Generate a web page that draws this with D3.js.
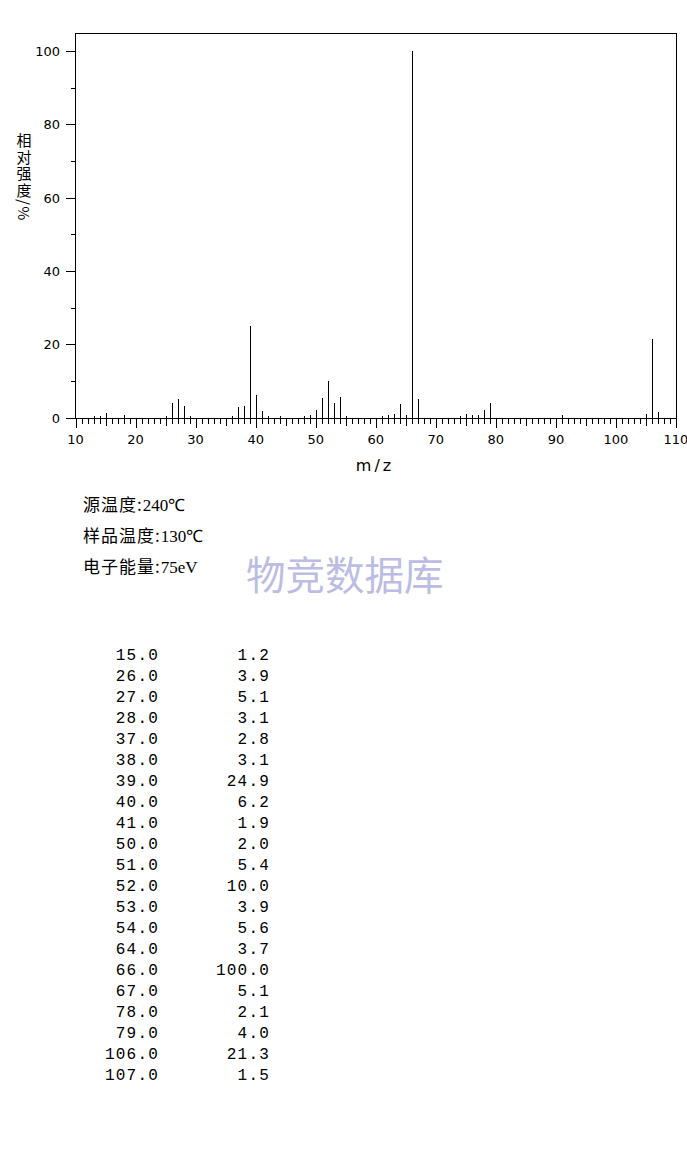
<!DOCTYPE html>
<html>
<head>
<meta charset="utf-8">
<script src="https://cdn.jsdelivr.net/npm/d3@7"></script>
<style>
  html, body { margin: 0; padding: 0; background: #fff; }
  svg { display: block; }
</style>
</head>
<body>
<svg id="chart" width="687" height="1151"></svg>
<script>
// ---- data ----
const listedMz  = [15, 26, 27, 28, 37, 38, 39, 40, 41, 50, 51, 52, 53, 54, 64, 66, 67, 78, 79, 106, 107];
const listedInt = [1.2, 3.9, 5.1, 3.1, 2.8, 3.1, 24.9, 6.2, 1.9, 2.0, 5.4, 10.0, 3.9, 5.6, 3.7, 100.0, 5.1, 2.1, 4.0, 21.3, 1.5];
const minorMz   = [13, 14, 18, 25, 29, 36, 42, 44, 48, 49, 55, 61, 62, 63, 65, 74, 75, 76, 77, 91, 105];
const minorInt  = [0.5, 0.5, 0.7, 0.4, 0.5, 0.5, 0.3, 0.3, 0.5, 0.7, 0.4, 0.4, 0.7, 1.0, 0.7, 0.4, 1.0, 0.7, 0.7, 0.7, 1.0];
const xTicks    = [10, 20, 30, 40, 50, 60, 70, 80, 90, 100, 110];
const yTicks    = [0, 20, 40, 60, 80, 100];
const infoLabels = ["源温度:", "样品温度:", "电子能量:"];
const infoValues = ["240℃", "130℃", "75eV"];
const yLabel    = "相对强度/%";
const xLabel    = "m/z";
const watermark = "物竞数据库";

const svg = d3.select("#chart");
const x = d3.scaleLinear().domain([10, 110]).range([75.5, 676]);
const y = d3.scaleLinear().domain([0, 100]).range([417.5, 51]);
const px = v => Math.round(x(v)) + 0.5;
const py = v => Math.round(y(v)) + 0.5;
const frameTop = 33.5, frameLeft = 75.5, frameRight = 676.5, base = py(0);

const g = svg.append("g").attr("shape-rendering", "crispEdges").attr("stroke", "#000").attr("stroke-width", 1);

// frame
g.append("path").attr("fill", "none")
  .attr("d", `M${frameLeft},${base}V${frameTop}H${frameRight}V${base}H${frameLeft}`);

// x ticks every 1 unit
d3.range(10, 111).forEach(v => {
  const len = v % 10 === 0 ? 9 : (v % 5 === 0 ? 7 : 5);
  g.append("line").attr("x1", px(v)).attr("x2", px(v)).attr("y1", base).attr("y2", base + len);
});
// y ticks
d3.range(0, 101, 10).forEach(v => {
  const len = v % 20 === 0 ? 10 : 5;
  g.append("line").attr("x1", frameLeft - len).attr("x2", frameLeft).attr("y1", py(v)).attr("y2", py(v));
});

// peaks
const peaks = listedMz.map((m, i) => ({m, v: listedInt[i]}))
  .concat(minorMz.map((m, i) => ({m, v: minorInt[i]})));
g.selectAll("line.peak").data(peaks).enter().append("line").attr("class", "peak")
  .attr("x1", d => px(d.m)).attr("x2", d => px(d.m))
  .attr("y1", base).attr("y2", d => Math.round(y(d.v)));

// tick labels
const axisFont = "'DejaVu Sans', sans-serif";
svg.selectAll("text.xt").data(xTicks).enter().append("text")
  .attr("x", d => x(d)).attr("y", 444)
  .attr("text-anchor", "middle").attr("font-family", axisFont).attr("font-size", 13).text(d => d);
svg.selectAll("text.yt").data(yTicks).enter().append("text")
  .attr("x", 60).attr("y", d => y(d) + 5)
  .attr("text-anchor", "end").attr("font-family", axisFont).attr("font-size", 13).text(d => d);

svg.append("text").attr("x", 375).attr("y", 471).attr("text-anchor", "middle")
  .attr("font-family", axisFont).attr("font-size", 16).attr("letter-spacing", 3).text(xLabel);

// y label (vertical writing, latin part sideways)
const cjk = "'Noto Sans CJK SC', sans-serif";
svg.append("text").attr("x", 24).attr("y", 133)
  .attr("writing-mode", "vertical-rl").attr("style", "writing-mode: vertical-rl;")
  .attr("letter-spacing", 1.5)
  .attr("font-family", cjk).attr("font-size", 15).text(yLabel);

// info lines
infoLabels.forEach((t, i) => {
  const tx = svg.append("text").attr("x", 83).attr("y", 511 + i * 31);
  tx.append("tspan").attr("font-family", cjk).attr("font-size", 17).attr("letter-spacing", 1).text(t);
  tx.append("tspan").attr("font-family", "'Liberation Serif', serif").attr("font-size", 17).text(infoValues[i]);
});

// watermark
svg.append("text").attr("x", 246).attr("y", 590).attr("fill", "#bcbce4")
  .attr("font-family", cjk).attr("font-size", 39.5).text(watermark);

// table
const mono = "'Liberation Mono', monospace";
listedMz.forEach((m, i) => {
  const yy = 660 + i * 21;
  svg.append("text").attr("x", 159).attr("y", yy).attr("text-anchor", "end")
    .attr("font-family", mono).attr("font-size", 16).attr("letter-spacing", 1.2).text(m.toFixed(1));
  svg.append("text").attr("x", 270).attr("y", yy).attr("text-anchor", "end")
    .attr("font-family", mono).attr("font-size", 16).attr("letter-spacing", 1.2).text(listedInt[i].toFixed(1));
});
</script>
</body>
</html>
